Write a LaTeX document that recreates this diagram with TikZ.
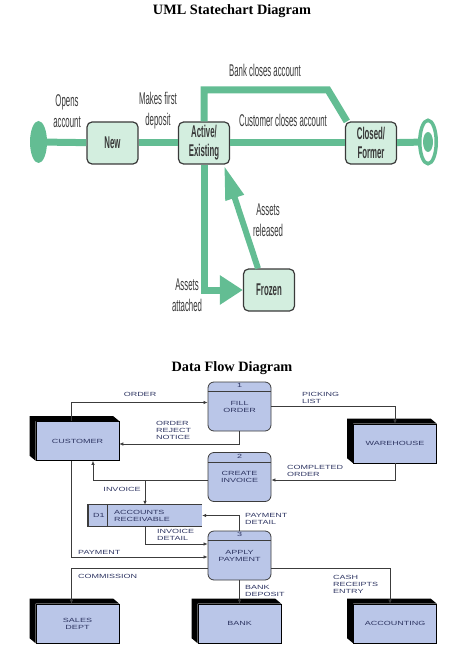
\documentclass[tikz,border=0pt]{standalone}
\usepackage{fontspec}
\setmainfont{Liberation Serif}
\newfontfamily\umlfont[FakeStretch=0.46]{Liberation Sans}
\newfontfamily\dfdfont[FakeStretch=1.5]{Liberation Sans}
\usetikzlibrary{shapes.geometric, arrows.meta, positioning}
\definecolor{umlgreen}{HTML}{63BD93}
\definecolor{statefill}{HTML}{D3EEDF}
\definecolor{stateborder}{HTML}{3A3A3A}
\definecolor{umltext}{HTML}{383838}
\definecolor{dfdfill}{HTML}{BAC6E8}
\definecolor{dfdtext}{HTML}{2E3562}
\definecolor{flowgray}{HTML}{3C3C3C}
\tikzstyle{state}=[draw=stateborder, fill=statefill, rounded corners=5pt, line width=1.2pt,
  minimum width=51pt, minimum height=42pt, align=center, text=umltext, inner sep=1pt,
  font=\umlfont\bfseries\fontsize{17}{19}\selectfont]
\tikzstyle{trans}=[draw=umlgreen, line width=7pt]
\tikzstyle{umllabel}=[align=center, text=umltext, font=\umlfont\fontsize{17}{21}\selectfont]
\tikzstyle{process}=[draw=flowgray, fill=dfdfill, rounded corners=6pt, line width=0.8pt,
  minimum width=63pt, minimum height=49pt, align=center, text=dfdtext,
  font=\dfdfont\fontsize{6}{7}\selectfont]
\tikzstyle{entity}=[draw=black, fill=dfdfill, line width=0.6pt, minimum width=83pt,
  minimum height=39pt, align=center, text=dfdtext, font=\dfdfont\fontsize{6}{7}\selectfont]
\tikzstyle{flow}=[draw=flowgray, line width=0.7pt, -{Latex[length=4pt,width=3.5pt]}]
\tikzstyle{dfdlabel}=[align=left, anchor=west, inner sep=0pt, text=dfdtext,
  font=\dfdfont\fontsize{6}{7}\selectfont]

\begin{document}
\begin{tikzpicture}[x=1pt,y=-1pt]
  \useasboundingbox (0,0) rectangle (474,668);
  % statechart
  \node[font=\bfseries\fontsize{14.3}{17}\selectfont] (umltitle) at (232,11) {UML Statechart Diagram};
  \node[ellipse, fill=umlgreen, minimum width=17pt, minimum height=42pt, inner sep=0pt] (init) at (38.5,142) {};
  \node[state] (new) at (112.5,143) {New};
  \node[state] (active) at (204,143) {Active/\\Existing};
  \node[state] (closed) at (371,143) {Closed/\\Former};
  \node[state] (frozen) at (269,290) {Frozen};
  \node[ellipse, draw=umlgreen, line width=3.5pt, fill=white, minimum width=16.5pt,
    minimum height=43.5pt, inner sep=0pt] (final) at (428,142) {};
  \node[ellipse, fill=umlgreen, minimum width=10pt, minimum height=20pt, inner sep=0pt] (finaldot) at (final) {};
  \coordinate (bankturn) at (328,90);
  \draw[trans] (init) -- (new);
  \draw[trans] (new) -- (active);
  \draw[trans] (active) -- (closed);
  \draw[trans] (closed) -- (final);
  \draw[trans] (active.north) |- (bankturn) -- ([xshift=2pt]closed.north west);
  \draw[trans, -{Triangle[length=23pt,width=28pt]}] (active.south) |- (frozen.west);
  \draw[trans, line width=6pt, -{Triangle[length=34pt,width=18pt]}]
    ([xshift=-11pt]frozen.north) -- ([xshift=-6pt,yshift=-1pt]active.south east);
  \node[umllabel] (opens) at (67,111) {Opens\\account};
  \node[umllabel] (firstdep) at (158,111) {Makes first\\deposit};
  \node[umllabel] (bankcloses) at (265,70) {Bank closes account};
  \node[umllabel] (custcloses) at (283,120) {Customer closes account};
  \node[umllabel] (released) at (268,220) {Assets\\released};
  \node[umllabel] (attached) at (187,295) {Assets\\attached};

  % data flow
  \node[font=\bfseries\fontsize{14.3}{17}\selectfont] (dfdtitle) at (232,368) {Data Flow Diagram};
  \node[process] (p1) at (239.5,406.5) {FILL\\ORDER};
  \node[process] (p2) at (239.5,477) {CREATE\\INVOICE};
  \node[process] (p3) at (239.5,555.5) {APPLY\\PAYMENT};
  \foreach \p/\n in {p1/1, p2/2, p3/3} {
    \draw[flowgray, line width=0.8pt] ([yshift=-10pt]\p.north west) -- ([yshift=-10pt]\p.north east);
    \node[dfdlabel, anchor=north, below=2pt of \p.north] {\n};
  }
  \node[entity] (cust) at (77.5,441) {CUSTOMER};
  \node[entity] (ware) at (395,443.5) {WAREHOUSE};
  \node[entity] (sales) at (77.5,623.5) {SALES\\DEPT};
  \node[entity] (bank) at (239.5,623.5) {BANK};
  \node[entity] (acct) at (395,623.5) {ACCOUNTING};
  \foreach \e in {cust, ware, sales, bank, acct}
    \fill[black] ([shift={(-6pt,5pt)}]\e.north west) -- ([shift={(-6pt,5pt)}]\e.north east)
      -- (\e.north east) -- (\e.north west) -- (\e.south west)
      -- ([shift={(-6pt,5pt)}]\e.south west) -- cycle;
  \node[fill=dfdfill, minimum width=114pt, minimum height=21pt, inner sep=0pt] (store) at (145,515.5) {};
  \draw[flowgray, line width=0.8pt] (store.north east) -- (store.north west)
    -- (store.south west) -- (store.south east);
  \draw[flowgray, line width=1.6pt] (store.north west) -- (store.south west);
  \draw[flowgray, line width=1.2pt] ([xshift=20pt]store.north west) -- ([xshift=20pt]store.south west);
  \node[dfdlabel, anchor=center] (d1) at ([xshift=11pt]store.west) {D1};
  \node[dfdlabel] (arlabel) at ([xshift=26pt]store.west) {ACCOUNTS\\RECEIVABLE};

  \draw[flow] ([xshift=-6pt]cust.north) |- ([yshift=4pt]p1.west);
  \draw[flow] (p1.south) |- ([yshift=-3pt]cust.east);
  \draw[flow] (p1.east) -| (ware.north);
  \draw[flow] (ware.south) |- ([yshift=-3pt]p2.east);
  \draw[flow] ([yshift=-3pt]p2.west) -| ([xshift=15.5pt]cust.south);
  \draw[flow] ([yshift=-3pt]p2.west -| store.north) -- (store.north);
  \draw[flow] (p3.north) |- (store.east);
  \draw[flow] (store.south) |- ([yshift=11.5pt]p3.west);
  \draw[flow] ([xshift=-6pt]cust.south) |- ([yshift=-1.5pt]p3.west);
  \draw[flow] ([yshift=-12.5pt]p3.west) -| ([xshift=-6pt]sales.north);
  \draw[flow] (p3.south) -- (bank.north);
  \draw[flow] ([yshift=-12.5pt]p3.east) -| ([xshift=-5pt]acct.north);

  \node[dfdlabel, anchor=center] (order) at (140,394) {ORDER};
  \node[dfdlabel] (reject) at (156,430) {ORDER\\REJECT\\NOTICE};
  \node[dfdlabel] (picking) at (302,397.5) {PICKING\\LIST};
  \node[dfdlabel] (completed) at (287,470.5) {COMPLETED\\ORDER};
  \node[dfdlabel, anchor=center] (invoice) at (122,489) {INVOICE};
  \node[dfdlabel] (paydetail) at (245,518.5) {PAYMENT\\DETAIL};
  \node[dfdlabel] (invdetail) at (157,535) {INVOICE\\DETAIL};
  \node[dfdlabel] (payment) at (78,552) {PAYMENT};
  \node[dfdlabel] (commission) at (78,576) {COMMISSION};
  \node[dfdlabel] (bankdep) at (245,590.5) {BANK\\DEPOSIT};
  \node[dfdlabel] (cash) at (333,584) {CASH\\RECEIPTS\\ENTRY};
\end{tikzpicture}
\end{document}
